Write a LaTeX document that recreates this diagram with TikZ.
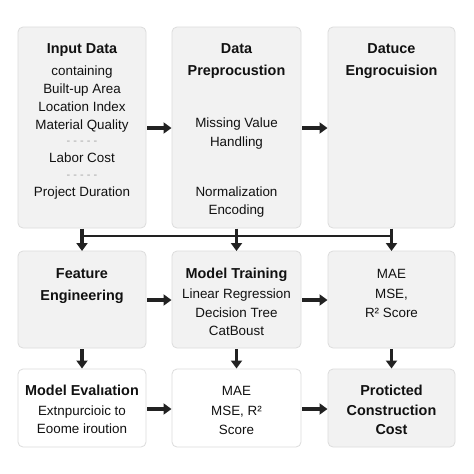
\documentclass[tikz,border=0pt]{standalone}
\usepackage{fontspec}
\setmainfont{Liberation Sans}
\usetikzlibrary{arrows.meta}
\definecolor{boxgray}{HTML}{F2F2F2}
\definecolor{boxline}{HTML}{DCDCDC}
\definecolor{arrowc}{HTML}{222222}
\definecolor{textc}{HTML}{111111}
\tikzset{
  graybox/.style={draw=boxline, fill=boxgray, rounded corners=5pt, line width=0.8pt},
  whitebox/.style={draw=boxline, fill=white, rounded corners=5pt, line width=0.8pt},
  tx/.style={inner sep=0pt, anchor=base, text=textc, font=\fontsize{13.4}{15}\selectfont},
  tb/.style={inner sep=0pt, anchor=base, text=textc, font=\fontsize{14.4}{16}\selectfont\bfseries},
  dsh/.style={inner sep=0pt, anchor=base, text=gray!70, font=\fontsize{11}{12}\selectfont},
  flow/.style={draw=arrowc, line width=3.6pt, -{Triangle[length=8pt,width=11pt]}},
  bus/.style={draw=arrowc, line width=2.2pt},
}
\begin{document}
\begin{tikzpicture}[x=1pt,y=-1pt]
\useasboundingbox[fill=white] (0,0) rectangle (474,474);
% boxes
\draw[graybox] (18,27) rectangle (146,228);
\node[inner sep=0pt] (in) at (82,127.5) {};
\draw[graybox] (172,27) rectangle (301,228);
\node[inner sep=0pt] (pre) at (236.5,127.5) {};
\draw[graybox] (328,27) rectangle (455,228);
\node[inner sep=0pt] (eng) at (391.5,127.5) {};
\draw[graybox] (18,251) rectangle (146,348);
\node[inner sep=0pt] (fe) at (82,299.5) {};
\draw[graybox] (172,251) rectangle (301,348);
\node[inner sep=0pt] (mt) at (236.5,299.5) {};
\draw[graybox] (328,251) rectangle (455,348);
\node[inner sep=0pt] (met) at (391.5,299.5) {};
\draw[whitebox] (18,369) rectangle (146,447);
\node[inner sep=0pt] (ev) at (82,408) {};
\draw[whitebox] (172,369) rectangle (301,447);
\node[inner sep=0pt] (sc) at (236.5,408) {};
\draw[graybox] (328,369) rectangle (455,447);
\node[inner sep=0pt] (cost) at (391.5,408) {};

% texts box 1
\node[tb] at (82,53) {Input Data};
\node[tx] at (82,75) {containing};
\node[tx] at (82,93) {Built-up Area};
\node[tx] at (82,111) {Location Index};
\node[tx] at (82,129) {Material Quality};
\node[dsh] at (82,144) {- - - - -};
\node[tx] at (82,162) {Labor Cost};
\node[dsh] at (82,178) {- - - - -};
\node[tx] at (82,196) {Project Duration};
% box 2
\node[tb] at (236.5,53) {Data};
\node[tb] at (236.5,75) {Preprocustion};
\node[tx] at (236.5,127) {Missing Value};
\node[tx] at (236.5,146) {Handling};
\node[tx] at (236.5,196) {Normalization};
\node[tx] at (236.5,214) {Encoding};
% box 3
\node[tb] at (391.5,53) {Datuce};
\node[tb] at (391.5,75) {Engrocuision};
% row 2
\node[tb] at (82,278) {Feature};
\node[tb] at (82,300) {Engineering};
\node[tb] at (236.5,278) {Model Training};
\node[tx] at (236.5,298) {Linear Regression};
\node[tx] at (236.5,317) {Decision Tree};
\node[tx] at (236.5,335) {CatBoust};
\node[tx] at (391.5,278) {MAE};
\node[tx] at (391.5,298) {MSE,};
\node[tx] at (391.5,317) {R² Score};
% row 3
\node[tb] at (82,395) {Model Evalıation};
\node[tx] at (82,415) {Extnpurcioic to};
\node[tx] at (82,433) {Eoome iroution};
\node[tx] at (236.5,395) {MAE};
\node[tx] at (236.5,415) {MSE, R²};
\node[tx] at (236.5,434) {Score};
\node[tb] at (391.5,395) {Proticted};
\node[tb] at (391.5,415) {Construction};
\node[tb] at (391.5,434) {Cost};

% horizontal arrows
\coordinate (a1s) at (147,128); \coordinate (a1e) at (171.5,128);
\coordinate (a2s) at (302,128); \coordinate (a2e) at (327.5,128);
\draw[flow] (a1s) -- (a1e);
\draw[flow] (a2s) -- (a2e);
\coordinate (b1s) at (147,300); \coordinate (b1e) at (171.5,300);
\coordinate (b2s) at (302,300); \coordinate (b2e) at (327.5,300);
\draw[flow] (b1s) -- (b1e);
\draw[flow] (b2s) -- (b2e);
\coordinate (c1s) at (147,409); \coordinate (c1e) at (171.5,409);
\coordinate (c2s) at (302,409); \coordinate (c2e) at (327.5,409);
\draw[flow] (c1s) -- (c1e);
\draw[flow] (c2s) -- (c2e);
% bus
\coordinate (t1) at (82,228.5); \coordinate (t2) at (236.5,228.5); \coordinate (t3) at (391.5,228.5);
\coordinate (d1) at (82,251); \coordinate (d2) at (236.5,251); \coordinate (d3) at (391.5,251);
\coordinate (h1) at (82,236); \coordinate (h3) at (391.5,236);
\draw[bus] (h1) -- (h3);
\draw[flow] (t1) -- (d1);
\draw[flow] (t2) -- (d2);
\draw[flow] (t3) -- (d3);
% vertical arrows row2 -> row3
\coordinate (u1) at (82,349); \coordinate (v1) at (82,368.5);
\coordinate (u2) at (236.5,349); \coordinate (v2) at (236.5,368.5);
\coordinate (u3) at (391.5,349); \coordinate (v3) at (391.5,368.5);
\draw[flow] (u1) -- (v1);
\draw[flow] (u2) -- (v2);
\draw[flow] (u3) -- (v3);
\end{tikzpicture}
\end{document}
